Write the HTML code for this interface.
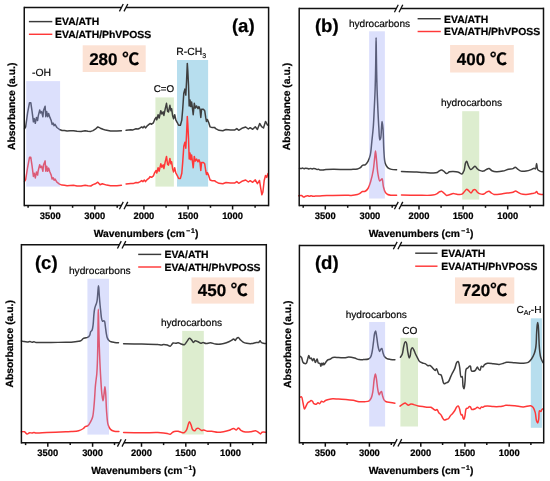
<!DOCTYPE html>
<html><head><meta charset="utf-8"><title>FTIR spectra</title>
<style>
html,body{margin:0;padding:0;background:#fff;}
svg{display:block;font-family:"Liberation Sans","Noto Sans CJK SC",sans-serif;fill:#000;text-rendering:geometricPrecision;}
</style></head><body>
<svg width="550" height="481" viewBox="0 0 550 481">
<rect width="550" height="481" fill="#fff"/>
<rect x="155.4" y="97.4" width="18.5" height="89.2" fill="rgba(125,185,70,0.26)"/>
<rect x="177.0" y="60.0" width="31.1" height="126.6" fill="rgba(50,160,205,0.35)"/>
<polyline points="24.5,128.8 25.7,126.9 27.6,112.9 29.5,102.7 30.8,102.7 32.1,111.6 33.4,121.8 34.3,118.6 35.3,123.3 36.5,117.4 37.6,120.5 38.2,116.1 39.7,110.1 40.6,112.9 41.6,111.6 42.9,116.7 43.5,110.4 45.1,106.3 45.8,116.7 46.7,111.6 47.7,116.7 48.6,113.5 49.9,117.4 51.2,120.5 52.1,124.4 53.1,123.1 54.1,125.6 55.0,124.4 56.9,127.5 59.5,129.5 62.0,130.5 64.5,130.6 67.1,131.1 70.0,130.8 73.5,130.7 77.0,131.3 81.1,131.4 85.1,130.7 88.0,131.2 90.8,131.4 93.0,130.6 95.3,129.2 97.8,126.9 100.4,128.2 103.0,129.3 105.5,130.1 110.5,131.1 116.9,131.1 121.4,130.7" fill="none" stroke="#3e3e3e" stroke-width="1.5" stroke-linejoin="round" stroke-linecap="round"/>
<polyline points="126.1,130.3 130.9,129.7 133.0,129.9 136.0,128.8 138.0,129.0 139.8,128.2 141.7,126.9 143.0,127.9 144.3,126.3 145.5,127.9 147.5,125.6 149.3,124.2 150.0,123.5 151.6,124.2 153.4,122.8 154.7,119.5 156.1,117.4 156.8,119.9 158.1,114.7 159.2,118.1 160.8,110.7 161.9,114.1 163.2,111.8 163.9,115.4 165.1,109.3 166.5,103.3 167.6,111.4 168.5,112.0 169.9,105.3 170.9,110.7 171.6,108.7 172.7,116.1 173.6,118.8 174.7,114.7 175.9,120.1 177.4,122.8 178.6,125.3 180.4,125.3 181.8,120.1 182.7,109.3 183.8,93.1 184.9,89.1 185.8,95.1 186.5,82.3 187.0,70.9 187.3,63.4 187.8,70.9 188.5,85.0 189.2,106.0 190.0,99.9 190.8,106.6 191.6,101.9 192.4,108.0 193.2,114.7 194.3,103.3 195.3,108.0 196.6,106.0 198.0,108.7 198.9,106.6 200.0,109.3 200.8,117.4 201.6,109.3 203.4,109.3 204.7,110.7 205.7,117.4 206.5,121.5 207.4,119.5 208.8,122.8 210.1,126.9 212.2,127.6 215.0,127.6 215.2,128.3 219.0,130.3 222.8,130.8 226.0,129.5 230.5,129.9 234.9,129.9 236.8,128.6 238.7,130.3 241.9,128.3 245.7,127.0 248.3,129.0 250.2,127.7 252.7,129.3 255.3,126.7 257.4,129.5 259.7,123.5 261.6,126.7 263.5,128.0 265.5,121.4 267.4,124.8 268.4,125.5" fill="none" stroke="#3e3e3e" stroke-width="1.5" stroke-linejoin="round" stroke-linecap="round"/>
<polyline points="24.5,181.3 25.7,179.5 27.6,167.5 29.5,157.3 30.8,157.3 32.1,166.2 33.4,176.4 34.3,173.2 35.3,177.9 36.5,172.0 37.6,175.1 38.2,170.7 39.7,164.7 40.6,167.5 41.6,166.2 42.9,171.3 43.5,165.0 45.1,160.9 45.8,171.3 46.7,166.2 47.7,171.3 48.6,168.1 49.9,172.0 51.2,175.1 52.1,179.0 53.1,177.7 54.1,180.2 55.0,179.0 56.9,182.1 59.5,184.1 62.0,185.1 64.5,185.2 67.1,185.7 70.0,185.4 73.5,185.3 77.0,185.9 81.1,186.0 85.1,185.3 88.0,185.8 90.8,186.0 93.0,184.6 95.3,183.8 97.8,182.2 100.1,184.7 102.3,183.8 106.7,185.1 110.5,185.7 116.9,185.7 121.4,185.3" fill="none" stroke="#ff3838" stroke-width="1.5" stroke-linejoin="round" stroke-linecap="round"/>
<polyline points="126.1,184.0 130.9,183.4 133.0,183.6 136.0,182.5 138.0,182.7 139.8,181.9 141.7,180.6 143.0,181.6 144.3,180.0 145.5,181.6 147.5,179.3 149.3,177.9 150.0,176.6 151.6,177.3 153.4,175.9 154.7,172.6 156.1,170.5 156.8,173.0 158.1,167.8 159.2,171.2 160.8,163.8 161.9,167.2 163.2,164.9 163.9,168.5 165.1,162.4 166.5,156.4 167.6,164.5 168.5,165.1 169.9,158.4 170.9,163.8 171.6,161.8 172.7,169.2 173.6,171.9 174.7,167.8 175.9,173.2 177.4,175.9 178.6,178.4 180.4,178.4 181.8,173.2 182.7,162.4 183.8,146.2 184.9,142.2 185.8,148.2 186.5,135.4 187.0,124.0 187.3,116.5 187.8,124.0 188.5,138.1 189.2,159.1 190.0,153.0 190.8,159.7 191.6,155.0 192.4,161.1 193.2,167.8 194.3,156.4 195.3,161.1 196.6,159.1 198.0,161.8 198.9,159.7 200.0,162.4 200.8,170.5 201.6,162.4 203.4,162.4 204.7,163.8 205.7,170.5 206.5,174.6 207.4,172.6 208.8,175.9 210.1,180.0 212.2,180.7 215.0,180.7 215.2,181.3 219.0,183.3 222.8,183.8 226.0,182.5 230.5,182.9 234.9,182.9 236.8,181.6 238.7,183.3 241.9,181.3 245.7,180.0 248.3,182.0 250.2,180.7 252.7,182.3 255.3,179.9 257.4,183.7 259.5,180.5 260.7,188.2 261.9,194.8 262.9,192.0 264.2,180.5 265.5,175.5 266.7,177.4 268.0,173.5" fill="none" stroke="#ff3838" stroke-width="1.5" stroke-linejoin="round" stroke-linecap="round"/>
<rect x="26.2" y="81.1" width="33.9" height="105.5" fill="rgba(150,160,245,0.33)"/>
<line x1="24.25" y1="6.85" x2="24.25" y2="206.25" stroke="#111" stroke-width="1.5" stroke-linecap="butt"/>
<line x1="268.60" y1="6.85" x2="268.60" y2="206.25" stroke="#111" stroke-width="1.5" stroke-linecap="butt"/>
<line x1="24.25" y1="7.60" x2="121.40" y2="7.60" stroke="#111" stroke-width="1.5" stroke-linecap="butt"/>
<line x1="126.10" y1="7.60" x2="268.60" y2="7.60" stroke="#111" stroke-width="1.5" stroke-linecap="butt"/>
<line x1="119.45" y1="11.40" x2="123.25" y2="4.00" stroke="#111" stroke-width="1.3" stroke-linecap="butt"/>
<line x1="124.00" y1="11.40" x2="127.80" y2="4.00" stroke="#111" stroke-width="1.3" stroke-linecap="butt"/>
<line x1="24.25" y1="205.50" x2="121.40" y2="205.50" stroke="#111" stroke-width="1.5" stroke-linecap="butt"/>
<line x1="126.10" y1="205.50" x2="268.60" y2="205.50" stroke="#111" stroke-width="1.5" stroke-linecap="butt"/>
<line x1="119.45" y1="209.30" x2="123.25" y2="201.90" stroke="#111" stroke-width="1.3" stroke-linecap="butt"/>
<line x1="124.00" y1="209.30" x2="127.80" y2="201.90" stroke="#111" stroke-width="1.3" stroke-linecap="butt"/>
<line x1="50.30" y1="205.50" x2="50.30" y2="209.50" stroke="#111" stroke-width="1.5" stroke-linecap="butt"/>
<line x1="94.80" y1="205.50" x2="94.80" y2="209.50" stroke="#111" stroke-width="1.5" stroke-linecap="butt"/>
<line x1="143.90" y1="205.50" x2="143.90" y2="209.50" stroke="#111" stroke-width="1.5" stroke-linecap="butt"/>
<line x1="188.10" y1="205.50" x2="188.10" y2="209.50" stroke="#111" stroke-width="1.5" stroke-linecap="butt"/>
<line x1="232.60" y1="205.50" x2="232.60" y2="209.50" stroke="#111" stroke-width="1.5" stroke-linecap="butt"/>
<line x1="28.10" y1="205.50" x2="28.10" y2="207.80" stroke="#111" stroke-width="1.5" stroke-linecap="butt"/>
<line x1="72.60" y1="205.50" x2="72.60" y2="207.80" stroke="#111" stroke-width="1.5" stroke-linecap="butt"/>
<line x1="117.20" y1="205.50" x2="117.20" y2="207.80" stroke="#111" stroke-width="1.5" stroke-linecap="butt"/>
<line x1="166.10" y1="205.50" x2="166.10" y2="207.80" stroke="#111" stroke-width="1.5" stroke-linecap="butt"/>
<line x1="210.50" y1="205.50" x2="210.50" y2="207.80" stroke="#111" stroke-width="1.5" stroke-linecap="butt"/>
<line x1="255.10" y1="205.50" x2="255.10" y2="207.80" stroke="#111" stroke-width="1.5" stroke-linecap="butt"/>
<text x="50.3" y="219.2" font-size="9.4" font-weight="bold" text-anchor="middle"  stroke="#000" stroke-width="0.22">3500</text>
<text x="94.8" y="219.2" font-size="9.4" font-weight="bold" text-anchor="middle"  stroke="#000" stroke-width="0.22">3000</text>
<text x="143.9" y="219.2" font-size="9.4" font-weight="bold" text-anchor="middle"  stroke="#000" stroke-width="0.22">2000</text>
<text x="188.1" y="219.2" font-size="9.4" font-weight="bold" text-anchor="middle"  stroke="#000" stroke-width="0.22">1500</text>
<text x="232.6" y="219.2" font-size="9.4" font-weight="bold" text-anchor="middle"  stroke="#000" stroke-width="0.22">1000</text>
<text x="146.1" y="236.9" font-size="10.3" font-weight="bold" text-anchor="middle"  stroke="#000" stroke-width="0.22">Wavenumbers (cm<tspan font-size="6.8" dy="-4.2" dx="1.2" letter-spacing="0.8">−1</tspan><tspan dy="4.2" dx="-0.5">)</tspan></text>
<text transform="translate(14.6,106.3) rotate(-90)" font-size="10.35" font-weight="bold" text-anchor="middle" stroke="#000" stroke-width="0.22">Absorbance (a.u.)</text>
<line x1="28.90" y1="21.60" x2="52.30" y2="21.60" stroke="#3a3a3a" stroke-width="1.45" stroke-linecap="butt"/>
<line x1="28.90" y1="34.30" x2="52.30" y2="34.30" stroke="#ff3838" stroke-width="1.45" stroke-linecap="butt"/>
<text x="55.1" y="25.4" font-size="10.4" font-weight="bold" text-anchor="start"  stroke="#000" stroke-width="0.22">EVA/ATH</text>
<text x="55.1" y="38.1" font-size="10.4" font-weight="bold" text-anchor="start"  stroke="#000" stroke-width="0.22">EVA/ATH/PhVPOSS</text>
<rect x="82.7" y="45.3" width="63.0" height="26.7" fill="#fce2d4"/>
<text x="114.2" y="64.5" font-size="17" font-weight="bold" text-anchor="middle"  stroke="#000" stroke-width="0.22">280 ℃</text>
<text x="243.3" y="31.8" font-size="18.6" font-weight="bold" text-anchor="middle"  stroke="#000" stroke-width="0.22">(a)</text>
<text x="41.5" y="76.2" font-size="10.4" font-weight="normal" text-anchor="middle" fill="#0a0a0a" stroke="#0a0a0a" stroke-width="0.2">-OH</text>
<text x="164.0" y="92.3" font-size="9.8" font-weight="normal" text-anchor="middle" fill="#0a0a0a" stroke="#0a0a0a" stroke-width="0.2">C=O</text>
<text x="191.3" y="55.3" font-size="10.4" font-weight="normal" text-anchor="middle" fill="#0a0a0a" stroke="#0a0a0a" stroke-width="0.2">R-CH<tspan font-size="7" dy="2.2">3</tspan></text>
<rect x="462.2" y="111.2" width="17.0" height="88.4" fill="rgba(125,185,70,0.26)"/>
<path d="M299.5,168.2C299.50,168.20 300.50,168.63 301.0,168.6C301.51,168.57 302.00,167.99 302.5,168.0C303.00,168.01 303.49,168.67 304.0,168.7C304.49,168.73 304.95,168.25 305.5,168.2C306.16,168.14 307.07,168.34 307.7,168.5C308.20,168.63 308.55,169.00 309.0,169.0C309.48,169.00 310.00,168.40 310.5,168.4C311.00,168.40 311.49,168.97 312.0,169.0C312.50,169.03 312.97,168.64 313.5,168.6C314.09,168.55 314.81,168.64 315.4,168.8C315.97,168.95 316.47,169.44 317.0,169.5C317.50,169.55 318.01,169.13 318.5,169.2C319.01,169.28 319.39,169.85 320.0,170.0C320.81,170.20 322.00,170.07 323.0,170.0C324.00,169.93 324.78,169.71 326.0,169.6C327.88,169.44 330.46,169.34 333.2,169.3C336.84,169.25 342.58,169.51 345.9,169.5C348.05,169.50 349.36,169.46 351.2,169.4C353.19,169.33 355.90,169.45 357.4,169.1C358.31,168.89 358.86,168.58 359.5,168.2C360.12,167.84 360.71,167.39 361.2,166.9C361.67,166.42 361.83,165.65 362.4,165.3C363.09,164.88 364.35,165.30 365.2,164.8C366.26,164.18 367.21,162.80 368.0,161.4C368.99,159.65 369.70,157.48 370.3,154.9C371.13,151.33 371.32,146.32 371.8,141.8C372.32,136.97 372.91,131.95 373.3,126.8C373.72,121.36 373.91,115.84 374.2,110.0C374.51,103.62 374.87,96.67 375.1,90.0C375.33,83.33 375.47,76.67 375.6,70.0C375.73,63.33 375.81,55.86 375.9,50.0C375.97,45.40 376.03,37.70 376.1,37.7C376.17,37.70 376.23,45.40 376.3,50.0C376.39,55.86 376.47,63.33 376.6,70.0C376.73,76.67 376.88,83.33 377.1,90.0C377.32,96.67 377.59,103.45 377.9,110.0C378.20,116.34 378.54,123.26 378.9,128.7C379.18,132.91 379.23,139.79 379.8,139.9C380.05,139.95 380.46,138.91 380.7,138.0C381.23,136.00 381.24,130.96 381.5,128.0C381.71,125.63 381.86,121.60 382.1,121.6C382.35,121.60 382.75,125.66 383.0,128.7C383.45,134.07 383.44,144.77 383.9,151.1C384.24,155.79 384.23,160.34 385.2,163.3C385.82,165.18 386.59,166.57 387.7,167.6C388.71,168.54 390.02,169.03 391.4,169.4C392.95,169.82 396.60,169.80 396.6,169.8" fill="none" stroke="#3e3e3e" stroke-width="1.5" stroke-linejoin="round" stroke-linecap="round"/>
<path d="M401.5,171.5C401.50,171.50 412.49,171.88 416.8,172.1C419.96,172.26 422.30,172.45 425.0,172.6C427.63,172.75 430.57,173.07 432.8,173.0C434.48,172.95 436.04,172.97 437.2,172.5C438.12,172.13 438.64,171.21 439.4,170.8C440.08,170.44 440.80,170.06 441.5,170.1C442.23,170.14 442.95,170.62 443.7,171.1C444.64,171.70 445.60,173.52 446.6,173.6C447.54,173.67 448.43,172.15 449.5,171.8C450.62,171.43 452.04,171.49 453.2,171.5C454.23,171.51 455.14,171.64 456.1,171.8C457.07,171.97 458.05,172.15 459.0,172.5C459.99,172.87 461.08,174.23 461.9,174.0C462.83,173.74 463.53,171.87 464.1,170.4C464.86,168.45 464.85,164.68 465.5,163.1C465.85,162.25 466.30,161.26 466.7,161.3C467.31,161.37 467.81,164.56 468.5,166.0C469.13,167.31 469.77,169.40 470.6,169.6C471.25,169.76 472.09,168.73 472.8,168.2C473.55,167.64 474.27,166.26 475.0,166.3C475.80,166.35 476.59,168.19 477.4,168.9C478.09,169.51 478.65,170.04 479.5,170.4C480.52,170.84 482.07,171.27 483.2,171.1C484.25,170.95 485.12,170.02 486.1,169.6C487.05,169.19 488.07,168.46 489.0,168.6C490.01,168.75 490.78,170.18 491.9,170.7C493.17,171.29 494.68,171.69 496.3,171.8C498.25,171.93 500.72,171.55 502.8,171.1C504.81,170.67 506.78,169.62 508.6,169.2C510.15,168.84 511.82,169.03 513.0,168.6C513.90,168.27 514.48,167.17 515.2,167.2C515.95,167.23 516.56,168.32 517.4,168.9C518.44,169.61 519.64,170.72 521.0,171.1C522.50,171.52 524.42,171.34 526.1,171.1C527.82,170.85 529.76,170.16 531.2,169.6C532.32,169.17 533.31,168.19 534.1,168.2C534.65,168.20 535.13,169.08 535.5,168.9C536.20,168.56 536.24,163.40 536.6,163.4C536.98,163.40 536.87,168.32 537.7,169.6C538.24,170.43 539.14,170.73 539.9,171.1C540.61,171.45 541.47,171.78 542.1,171.8C542.56,171.81 543.30,171.50 543.3,171.5" fill="none" stroke="#3e3e3e" stroke-width="1.5" stroke-linejoin="round" stroke-linecap="round"/>
<path d="M298.8,195.8C298.80,195.80 300.57,195.40 301.4,195.6C302.28,195.81 303.16,197.09 303.9,197.1C304.49,197.11 304.90,196.41 305.5,196.2C306.16,195.96 307.01,195.77 307.7,195.8C308.33,195.83 308.93,196.33 309.5,196.3C310.03,196.27 310.46,195.72 311.0,195.7C311.61,195.67 312.30,196.23 313.0,196.3C313.76,196.38 314.47,196.16 315.4,196.1C316.69,196.02 318.32,195.97 320.0,195.9C322.05,195.81 323.96,195.69 326.8,195.6C331.56,195.45 341.51,195.16 345.9,195.2C348.21,195.22 349.37,195.50 351.2,195.4C353.19,195.29 355.90,194.92 357.4,194.5C358.31,194.24 358.86,193.98 359.5,193.6C360.12,193.24 360.68,192.67 361.2,192.3C361.63,191.99 361.89,191.68 362.4,191.5C363.11,191.26 364.33,191.70 365.2,191.3C366.23,190.83 367.18,189.77 368.0,188.5C369.16,186.69 369.97,183.78 370.8,181.0C371.79,177.67 372.67,173.55 373.3,169.8C373.93,166.08 374.20,161.96 374.6,158.6C374.92,155.85 375.20,151.10 375.5,151.1C375.80,151.10 376.08,155.67 376.4,158.6C376.86,162.74 377.17,169.50 377.9,173.6C378.42,176.52 378.98,180.78 379.8,181.0C380.22,181.11 380.78,180.00 381.2,179.6C381.53,179.29 381.84,178.71 382.1,178.8C382.77,179.04 382.83,184.23 383.4,186.6C383.90,188.64 384.32,190.82 385.2,192.2C385.87,193.25 386.70,194.00 387.7,194.5C388.75,195.03 390.06,195.07 391.4,195.2C392.98,195.35 396.60,195.20 396.6,195.2" fill="none" stroke="#ff3838" stroke-width="1.5" stroke-linejoin="round" stroke-linecap="round"/>
<path d="M401.5,195.1C401.50,195.10 411.64,195.20 416.8,195.2C422.07,195.20 429.16,195.71 432.8,195.1C434.76,194.77 436.03,194.23 437.2,193.6C438.11,193.11 438.64,192.31 439.4,191.9C440.08,191.54 440.82,191.08 441.5,191.2C442.26,191.33 442.93,192.27 443.7,192.9C444.61,193.64 445.56,195.13 446.6,195.4C447.51,195.64 448.48,195.07 449.5,194.8C450.67,194.49 452.03,193.68 453.2,193.6C454.22,193.53 455.13,193.97 456.1,194.1C457.06,194.23 458.03,194.40 459.0,194.4C459.97,194.40 461.03,194.52 461.9,194.1C462.88,193.63 463.67,192.33 464.5,191.5C465.26,190.74 465.97,189.35 466.7,189.3C467.34,189.25 467.94,190.16 468.6,190.7C469.39,191.34 470.32,192.97 471.1,192.9C471.92,192.83 472.58,190.51 473.4,190.0C473.98,189.64 474.63,189.41 475.2,189.6C475.98,189.86 476.62,191.51 477.4,192.2C478.07,192.80 478.62,193.28 479.5,193.6C480.66,194.02 482.68,194.42 483.9,194.1C484.94,193.82 485.61,192.69 486.5,192.2C487.31,191.75 488.22,191.09 489.0,191.2C489.79,191.31 490.39,192.38 491.2,192.9C492.08,193.46 492.87,194.14 494.1,194.4C495.94,194.78 498.98,194.15 501.4,193.9C503.81,193.65 506.50,193.21 508.6,192.9C510.25,192.65 511.75,192.58 513.0,192.2C514.00,191.89 514.79,190.96 515.6,191.0C516.35,191.03 516.92,191.77 517.7,192.2C518.67,192.73 519.74,193.53 521.0,193.9C522.48,194.34 524.35,194.43 526.1,194.4C527.97,194.36 530.26,193.89 531.9,193.6C533.13,193.38 534.28,193.33 535.1,192.9C535.75,192.56 536.17,191.44 536.6,191.5C537.04,191.56 537.17,192.86 537.7,193.3C538.27,193.78 539.15,194.01 540.0,194.2C540.99,194.42 543.30,194.40 543.3,194.4" fill="none" stroke="#ff3838" stroke-width="1.5" stroke-linejoin="round" stroke-linecap="round"/>
<rect x="369.1" y="31.3" width="15.8" height="167.2" fill="rgba(150,160,245,0.33)"/>
<line x1="299.20" y1="7.65" x2="299.20" y2="206.25" stroke="#111" stroke-width="1.5" stroke-linecap="butt"/>
<line x1="543.50" y1="7.65" x2="543.50" y2="206.25" stroke="#111" stroke-width="1.5" stroke-linecap="butt"/>
<line x1="299.20" y1="8.40" x2="396.40" y2="8.40" stroke="#111" stroke-width="1.5" stroke-linecap="butt"/>
<line x1="401.10" y1="8.40" x2="543.50" y2="8.40" stroke="#111" stroke-width="1.5" stroke-linecap="butt"/>
<line x1="394.45" y1="12.20" x2="398.25" y2="4.80" stroke="#111" stroke-width="1.3" stroke-linecap="butt"/>
<line x1="399.00" y1="12.20" x2="402.80" y2="4.80" stroke="#111" stroke-width="1.3" stroke-linecap="butt"/>
<line x1="299.20" y1="205.50" x2="396.40" y2="205.50" stroke="#111" stroke-width="1.5" stroke-linecap="butt"/>
<line x1="401.10" y1="205.50" x2="543.50" y2="205.50" stroke="#111" stroke-width="1.5" stroke-linecap="butt"/>
<line x1="394.45" y1="209.30" x2="398.25" y2="201.90" stroke="#111" stroke-width="1.3" stroke-linecap="butt"/>
<line x1="399.00" y1="209.30" x2="402.80" y2="201.90" stroke="#111" stroke-width="1.3" stroke-linecap="butt"/>
<line x1="325.30" y1="205.50" x2="325.30" y2="209.50" stroke="#111" stroke-width="1.5" stroke-linecap="butt"/>
<line x1="369.90" y1="205.50" x2="369.90" y2="209.50" stroke="#111" stroke-width="1.5" stroke-linecap="butt"/>
<line x1="419.00" y1="205.50" x2="419.00" y2="209.50" stroke="#111" stroke-width="1.5" stroke-linecap="butt"/>
<line x1="463.10" y1="205.50" x2="463.10" y2="209.50" stroke="#111" stroke-width="1.5" stroke-linecap="butt"/>
<line x1="507.70" y1="205.50" x2="507.70" y2="209.50" stroke="#111" stroke-width="1.5" stroke-linecap="butt"/>
<line x1="303.20" y1="205.50" x2="303.20" y2="207.80" stroke="#111" stroke-width="1.5" stroke-linecap="butt"/>
<line x1="347.70" y1="205.50" x2="347.70" y2="207.80" stroke="#111" stroke-width="1.5" stroke-linecap="butt"/>
<line x1="392.20" y1="205.50" x2="392.20" y2="207.80" stroke="#111" stroke-width="1.5" stroke-linecap="butt"/>
<line x1="441.10" y1="205.50" x2="441.10" y2="207.80" stroke="#111" stroke-width="1.5" stroke-linecap="butt"/>
<line x1="485.50" y1="205.50" x2="485.50" y2="207.80" stroke="#111" stroke-width="1.5" stroke-linecap="butt"/>
<line x1="530.10" y1="205.50" x2="530.10" y2="207.80" stroke="#111" stroke-width="1.5" stroke-linecap="butt"/>
<text x="325.3" y="219.2" font-size="9.4" font-weight="bold" text-anchor="middle"  stroke="#000" stroke-width="0.22">3500</text>
<text x="369.9" y="219.2" font-size="9.4" font-weight="bold" text-anchor="middle"  stroke="#000" stroke-width="0.22">3000</text>
<text x="419.0" y="219.2" font-size="9.4" font-weight="bold" text-anchor="middle"  stroke="#000" stroke-width="0.22">2000</text>
<text x="463.1" y="219.2" font-size="9.4" font-weight="bold" text-anchor="middle"  stroke="#000" stroke-width="0.22">1500</text>
<text x="507.7" y="219.2" font-size="9.4" font-weight="bold" text-anchor="middle"  stroke="#000" stroke-width="0.22">1000</text>
<text x="421.1" y="236.9" font-size="10.3" font-weight="bold" text-anchor="middle"  stroke="#000" stroke-width="0.22">Wavenumbers (cm<tspan font-size="6.8" dy="-4.2" dx="1.2" letter-spacing="0.8">−1</tspan><tspan dy="4.2" dx="-0.5">)</tspan></text>
<text transform="translate(289.9,106.6) rotate(-90)" font-size="10.35" font-weight="bold" text-anchor="middle" stroke="#000" stroke-width="0.22">Absorbance (a.u.)</text>
<line x1="417.60" y1="18.70" x2="440.80" y2="18.70" stroke="#3a3a3a" stroke-width="1.45" stroke-linecap="butt"/>
<line x1="417.60" y1="31.50" x2="440.80" y2="31.50" stroke="#ff3838" stroke-width="1.45" stroke-linecap="butt"/>
<text x="444.1" y="22.5" font-size="10.4" font-weight="bold" text-anchor="start"  stroke="#000" stroke-width="0.22">EVA/ATH</text>
<text x="444.1" y="35.3" font-size="10.4" font-weight="bold" text-anchor="start"  stroke="#000" stroke-width="0.22">EVA/ATH/PhVPOSS</text>
<rect x="450.1" y="45.0" width="63.7" height="27.5" fill="#fce2d4"/>
<text x="481.9" y="64.7" font-size="17" font-weight="bold" text-anchor="middle"  stroke="#000" stroke-width="0.22">400 ℃</text>
<text x="326.8" y="31.8" font-size="18.6" font-weight="bold" text-anchor="middle"  stroke="#000" stroke-width="0.22">(b)</text>
<text x="379.5" y="27.0" font-size="10.1" font-weight="normal" text-anchor="middle" fill="#0a0a0a" stroke="#0a0a0a" stroke-width="0.2">hydrocarbons</text>
<text x="471.5" y="106.0" font-size="10.1" font-weight="normal" text-anchor="middle" fill="#0a0a0a" stroke="#0a0a0a" stroke-width="0.2">hydrocarbons</text>
<rect x="182.2" y="330.9" width="21.6" height="103.6" fill="rgba(125,185,70,0.26)"/>
<path d="M21.4,340.9C21.40,340.90 23.05,341.43 24.0,341.6C25.12,341.79 26.62,341.95 27.7,341.9C28.56,341.86 29.27,341.44 30.0,341.5C30.70,341.56 31.33,342.15 32.0,342.2C32.66,342.25 33.34,341.77 34.0,341.8C34.67,341.83 35.21,342.27 36.0,342.4C37.10,342.57 38.49,342.47 40.0,342.5C41.97,342.54 43.96,342.61 46.8,342.6C51.56,342.59 61.51,342.25 65.9,342.2C68.21,342.18 69.29,342.32 71.2,342.2C73.47,342.06 76.82,341.67 78.6,341.3C79.63,341.09 80.25,341.02 81.0,340.6C81.86,340.12 82.63,338.84 83.4,338.4C83.95,338.08 84.40,338.05 85.0,337.9C85.76,337.71 86.83,337.81 87.6,337.4C88.41,336.97 89.19,336.17 89.7,335.3C90.27,334.32 90.20,332.62 90.7,331.7C91.07,331.01 91.73,330.85 92.1,330.1C92.68,328.91 92.83,326.94 93.1,324.9C93.48,322.04 93.59,317.49 93.9,314.5C94.14,312.22 94.35,310.15 94.7,308.5C94.95,307.32 95.28,306.38 95.6,305.5C95.86,304.79 96.17,304.32 96.4,303.6C96.68,302.72 96.91,301.80 97.1,300.6C97.38,298.87 97.52,296.32 97.7,294.2C97.88,292.12 98.03,289.54 98.2,288.0C98.30,287.08 98.40,285.80 98.5,285.8C98.60,285.80 98.71,287.08 98.8,288.0C98.95,289.54 99.03,291.89 99.2,294.2C99.41,297.14 99.72,301.19 100.0,304.2C100.23,306.69 100.44,308.66 100.7,311.0C100.97,313.49 101.17,316.83 101.6,318.7C101.85,319.81 102.06,321.12 102.5,321.3C102.78,321.41 103.17,320.80 103.5,320.8C103.83,320.80 104.23,320.94 104.5,321.3C105.05,322.04 105.03,324.26 105.3,326.0C105.63,328.16 105.92,331.15 106.3,333.3C106.60,335.02 106.78,336.62 107.3,337.9C107.72,338.93 108.24,339.84 108.9,340.5C109.50,341.10 110.17,341.49 111.0,341.8C112.01,342.18 113.37,342.24 114.6,342.4C115.87,342.57 118.50,342.80 118.5,342.8" fill="none" stroke="#3e3e3e" stroke-width="1.5" stroke-linejoin="round" stroke-linecap="round"/>
<path d="M123.6,343.7C123.60,343.70 135.93,343.98 141.8,344.1C147.30,344.21 154.34,344.09 157.8,344.4C159.47,344.55 160.45,345.06 161.5,345.0C162.30,344.95 162.80,344.45 163.6,344.4C164.65,344.34 166.16,344.68 167.3,345.0C168.34,345.30 169.30,346.40 170.2,346.2C171.26,345.96 172.02,343.41 173.1,343.0C173.99,342.66 175.10,343.35 176.0,343.3C176.79,343.25 177.43,342.73 178.2,342.8C179.11,342.88 180.10,343.68 181.1,344.0C182.13,344.32 183.35,345.03 184.3,344.7C185.43,344.30 186.29,342.24 187.2,341.1C188.01,340.08 188.73,338.29 189.5,338.2C190.10,338.13 190.71,339.00 191.3,339.6C192.05,340.36 192.80,342.46 193.5,342.5C194.06,342.53 194.42,340.97 195.1,340.8C195.88,340.61 197.05,341.39 198.0,341.8C198.98,342.22 199.99,343.24 200.9,343.3C201.67,343.35 202.32,342.49 203.1,342.5C204.00,342.51 204.92,343.50 206.0,343.6C207.30,343.72 208.88,342.76 210.4,342.8C212.04,342.84 213.73,343.79 215.5,344.0C217.36,344.22 219.44,344.22 221.3,344.0C223.07,343.79 224.73,343.38 226.4,342.8C228.13,342.20 230.20,341.16 231.5,340.4C232.38,339.88 232.98,338.85 233.6,338.9C234.16,338.95 234.62,340.43 235.1,340.4C235.59,340.37 235.95,339.09 236.5,338.6C237.03,338.13 237.72,337.42 238.3,337.5C238.97,337.60 239.48,338.89 240.2,339.6C241.04,340.42 242.01,341.48 243.1,342.1C244.18,342.71 245.38,343.05 246.7,343.3C248.23,343.60 250.17,343.75 251.8,343.6C253.33,343.46 254.93,342.66 256.2,342.5C257.14,342.38 258.04,342.82 258.7,342.5C259.33,342.19 259.66,340.68 260.1,340.7C260.53,340.72 260.75,342.07 261.3,342.5C261.87,342.95 262.77,343.12 263.5,343.3C264.20,343.48 265.60,343.60 265.6,343.6" fill="none" stroke="#3e3e3e" stroke-width="1.5" stroke-linejoin="round" stroke-linecap="round"/>
<path d="M21.4,431.8C21.40,431.80 23.57,431.45 24.5,431.8C25.48,432.17 26.20,433.99 27.1,434.1C27.91,434.20 28.75,432.97 29.6,432.8C30.39,432.64 31.24,433.06 32.0,433.0C32.70,432.94 33.33,432.50 34.0,432.5C34.67,432.50 35.06,432.91 36.0,433.0C38.16,433.22 42.69,432.67 46.8,432.5C52.26,432.27 61.51,431.96 65.9,431.8C68.21,431.71 69.28,431.75 71.2,431.6C73.49,431.42 76.53,431.32 78.7,430.7C80.50,430.19 82.26,429.33 83.4,428.5C84.21,427.91 84.46,427.06 85.2,426.6C85.98,426.11 87.16,426.34 88.0,425.7C89.10,424.86 90.02,422.90 90.8,421.4C91.58,419.90 92.19,418.70 92.7,416.7C93.52,413.47 93.76,408.36 94.2,403.6C94.72,397.93 95.00,390.33 95.5,384.9C95.89,380.69 96.48,377.48 96.8,373.7C97.12,369.85 97.24,366.26 97.4,362.0C97.59,356.86 97.69,351.21 97.8,345.0C97.93,337.47 98.00,326.59 98.1,320.0C98.17,315.69 98.22,309.30 98.3,309.3C98.38,309.30 98.49,315.88 98.6,320.0C98.75,325.63 98.92,333.81 99.1,340.0C99.26,345.36 99.37,349.50 99.6,355.0C99.88,361.72 100.28,370.46 100.7,377.4C101.06,383.43 101.38,390.00 101.9,394.3C102.22,396.98 102.66,400.80 103.0,400.8C103.32,400.80 103.61,397.26 103.9,395.2C104.25,392.69 104.59,386.80 104.9,386.8C105.15,386.80 105.38,389.94 105.6,392.4C106.02,397.09 106.18,406.96 106.7,412.9C107.11,417.50 107.26,422.13 108.2,425.1C108.79,426.97 109.44,428.36 110.5,429.4C111.48,430.36 112.85,430.93 114.2,431.3C115.64,431.70 118.90,431.60 118.9,431.6" fill="none" stroke="#ff3838" stroke-width="1.5" stroke-linejoin="round" stroke-linecap="round"/>
<path d="M123.6,432.4C123.60,432.40 135.93,432.67 141.8,432.7C147.30,432.73 153.79,432.51 157.8,432.6C160.21,432.65 161.89,432.72 163.6,432.9C164.98,433.05 166.15,433.27 167.3,433.5C168.33,433.71 169.28,434.39 170.2,434.2C171.22,433.99 172.08,432.48 173.1,432.0C174.02,431.56 175.09,431.41 176.0,431.3C176.78,431.21 177.43,431.17 178.2,431.3C179.11,431.45 180.12,432.07 181.1,432.3C182.06,432.53 183.13,433.02 184.0,432.7C185.00,432.33 185.91,431.03 186.6,429.8C187.47,428.27 187.81,425.46 188.4,424.0C188.77,423.07 189.10,421.80 189.5,421.8C189.96,421.80 190.53,423.58 191.0,424.7C191.61,426.14 191.82,428.82 192.7,429.8C193.29,430.46 194.28,430.96 194.9,430.8C195.56,430.63 195.82,428.99 196.5,428.6C197.11,428.25 197.96,428.20 198.7,428.4C199.65,428.66 200.65,430.29 201.6,430.5C202.35,430.67 202.98,430.05 203.8,430.1C204.88,430.17 206.20,431.09 207.5,431.3C208.86,431.52 210.27,431.17 211.8,431.3C213.60,431.45 215.65,432.23 217.6,432.3C219.55,432.37 221.55,432.03 223.5,431.7C225.45,431.37 227.54,430.90 229.3,430.3C230.87,429.77 232.35,428.31 233.6,428.4C234.63,428.48 235.49,430.20 236.3,430.1C237.09,430.00 237.66,427.92 238.4,427.9C239.19,427.88 239.87,429.65 240.9,430.3C242.10,431.06 243.70,431.74 245.3,432.0C247.07,432.28 249.31,431.93 251.1,431.7C252.68,431.50 254.21,430.62 255.5,430.8C256.60,430.95 257.53,431.75 258.4,432.3C259.18,432.79 259.88,433.95 260.5,433.9C261.07,433.85 261.31,432.60 262.0,432.3C262.89,431.92 265.60,432.30 265.6,432.3" fill="none" stroke="#ff3838" stroke-width="1.5" stroke-linejoin="round" stroke-linecap="round"/>
<rect x="87.4" y="278.8" width="21.6" height="155.8" fill="rgba(150,160,245,0.33)"/>
<line x1="21.40" y1="243.95" x2="21.40" y2="443.55" stroke="#111" stroke-width="1.5" stroke-linecap="butt"/>
<line x1="266.30" y1="243.95" x2="266.30" y2="443.55" stroke="#111" stroke-width="1.5" stroke-linecap="butt"/>
<line x1="21.40" y1="244.70" x2="119.40" y2="244.70" stroke="#111" stroke-width="1.5" stroke-linecap="butt"/>
<line x1="124.10" y1="244.70" x2="266.30" y2="244.70" stroke="#111" stroke-width="1.5" stroke-linecap="butt"/>
<line x1="117.45" y1="248.50" x2="121.25" y2="241.10" stroke="#111" stroke-width="1.3" stroke-linecap="butt"/>
<line x1="122.00" y1="248.50" x2="125.80" y2="241.10" stroke="#111" stroke-width="1.3" stroke-linecap="butt"/>
<line x1="21.40" y1="442.80" x2="119.40" y2="442.80" stroke="#111" stroke-width="1.5" stroke-linecap="butt"/>
<line x1="124.10" y1="442.80" x2="266.30" y2="442.80" stroke="#111" stroke-width="1.5" stroke-linecap="butt"/>
<line x1="117.45" y1="446.60" x2="121.25" y2="439.20" stroke="#111" stroke-width="1.3" stroke-linecap="butt"/>
<line x1="122.00" y1="446.60" x2="125.80" y2="439.20" stroke="#111" stroke-width="1.3" stroke-linecap="butt"/>
<line x1="47.80" y1="442.80" x2="47.80" y2="446.80" stroke="#111" stroke-width="1.5" stroke-linecap="butt"/>
<line x1="92.60" y1="442.80" x2="92.60" y2="446.80" stroke="#111" stroke-width="1.5" stroke-linecap="butt"/>
<line x1="141.50" y1="442.80" x2="141.50" y2="446.80" stroke="#111" stroke-width="1.5" stroke-linecap="butt"/>
<line x1="185.80" y1="442.80" x2="185.80" y2="446.80" stroke="#111" stroke-width="1.5" stroke-linecap="butt"/>
<line x1="230.50" y1="442.80" x2="230.50" y2="446.80" stroke="#111" stroke-width="1.5" stroke-linecap="butt"/>
<line x1="25.60" y1="442.80" x2="25.60" y2="445.10" stroke="#111" stroke-width="1.5" stroke-linecap="butt"/>
<line x1="70.20" y1="442.80" x2="70.20" y2="445.10" stroke="#111" stroke-width="1.5" stroke-linecap="butt"/>
<line x1="114.50" y1="442.80" x2="114.50" y2="445.10" stroke="#111" stroke-width="1.5" stroke-linecap="butt"/>
<line x1="163.60" y1="442.80" x2="163.60" y2="445.10" stroke="#111" stroke-width="1.5" stroke-linecap="butt"/>
<line x1="208.10" y1="442.80" x2="208.10" y2="445.10" stroke="#111" stroke-width="1.5" stroke-linecap="butt"/>
<line x1="252.70" y1="442.80" x2="252.70" y2="445.10" stroke="#111" stroke-width="1.5" stroke-linecap="butt"/>
<text x="47.8" y="456.1" font-size="9.4" font-weight="bold" text-anchor="middle"  stroke="#000" stroke-width="0.22">3500</text>
<text x="92.6" y="456.1" font-size="9.4" font-weight="bold" text-anchor="middle"  stroke="#000" stroke-width="0.22">3000</text>
<text x="141.5" y="456.1" font-size="9.4" font-weight="bold" text-anchor="middle"  stroke="#000" stroke-width="0.22">2000</text>
<text x="185.8" y="456.1" font-size="9.4" font-weight="bold" text-anchor="middle"  stroke="#000" stroke-width="0.22">1500</text>
<text x="230.5" y="456.1" font-size="9.4" font-weight="bold" text-anchor="middle"  stroke="#000" stroke-width="0.22">1000</text>
<text x="143.6" y="474.2" font-size="10.3" font-weight="bold" text-anchor="middle"  stroke="#000" stroke-width="0.22">Wavenumbers (cm<tspan font-size="6.8" dy="-4.2" dx="1.2" letter-spacing="0.8">−1</tspan><tspan dy="4.2" dx="-0.5">)</tspan></text>
<text transform="translate(12.6,343.8) rotate(-90)" font-size="10.35" font-weight="bold" text-anchor="middle" stroke="#000" stroke-width="0.22">Absorbance (a.u.)</text>
<line x1="138.20" y1="254.40" x2="161.20" y2="254.40" stroke="#3a3a3a" stroke-width="1.45" stroke-linecap="butt"/>
<line x1="138.20" y1="267.00" x2="161.20" y2="267.00" stroke="#ff3838" stroke-width="1.45" stroke-linecap="butt"/>
<text x="164.5" y="258.2" font-size="10.4" font-weight="bold" text-anchor="start"  stroke="#000" stroke-width="0.22">EVA/ATH</text>
<text x="164.5" y="270.8" font-size="10.4" font-weight="bold" text-anchor="start"  stroke="#000" stroke-width="0.22">EVA/ATH/PhVPOSS</text>
<rect x="191.5" y="277.4" width="62.6" height="26.2" fill="#fce2d4"/>
<text x="222.8" y="296.4" font-size="17" font-weight="bold" text-anchor="middle"  stroke="#000" stroke-width="0.22">450 ℃</text>
<text x="46.3" y="269.3" font-size="18.6" font-weight="bold" text-anchor="middle"  stroke="#000" stroke-width="0.22">(c)</text>
<text x="99.8" y="273.9" font-size="10.2" font-weight="normal" text-anchor="middle" fill="#0a0a0a" stroke="#0a0a0a" stroke-width="0.2">hydrocarbons</text>
<text x="191.5" y="326.0" font-size="10.1" font-weight="normal" text-anchor="middle" fill="#0a0a0a" stroke="#0a0a0a" stroke-width="0.2">hydrocarbons</text>
<rect x="400.4" y="337.8" width="17.6" height="88.7" fill="rgba(125,185,70,0.26)"/>
<rect x="530.8" y="318.3" width="11.1" height="109.5" fill="rgba(50,160,205,0.35)"/>
<path d="M299.8,356.1C299.80,356.10 301.03,356.80 301.5,357.5C302.21,358.55 302.25,361.16 303.0,362.2C303.52,362.92 304.29,363.47 304.9,363.6C305.38,363.70 305.90,363.66 306.3,363.3C307.04,362.62 307.34,359.90 307.8,358.5C308.16,357.41 308.44,355.61 308.8,355.6C309.17,355.59 309.44,358.24 310.0,358.5C310.37,358.67 310.93,357.94 311.3,358.1C311.84,358.34 312.05,360.67 312.5,360.7C312.93,360.73 313.47,358.45 313.9,358.5C314.45,358.56 314.85,362.47 315.4,362.5C315.92,362.52 316.62,358.96 317.1,359.0C317.59,359.04 317.63,362.17 318.3,362.9C318.75,363.39 319.58,363.15 320.0,363.6C320.52,364.16 320.62,366.31 320.9,366.3C321.19,366.29 321.37,363.23 321.7,363.2C321.96,363.17 322.34,365.02 322.6,365.0C322.87,364.98 323.04,363.01 323.3,363.0C323.55,362.99 323.75,364.77 324.1,364.8C324.54,364.84 325.19,363.01 325.8,362.2C326.39,361.42 326.97,360.48 327.7,360.0C328.35,359.57 329.14,359.65 329.9,359.3C330.83,358.87 331.61,357.84 332.8,357.5C334.35,357.06 336.66,357.45 338.6,357.5C340.56,357.55 342.69,357.90 344.5,357.8C346.05,357.71 347.26,357.09 348.8,357.1C350.59,357.11 352.82,357.65 354.6,358.1C356.19,358.50 357.51,359.35 359.0,359.6C360.45,359.84 361.88,359.69 363.4,359.6C365.04,359.50 367.23,359.57 368.5,359.0C369.44,358.57 370.04,357.99 370.6,357.1C371.37,355.88 371.67,354.01 372.1,352.0C372.70,349.20 373.05,345.07 373.5,341.8C373.92,338.76 374.16,334.87 374.7,333.0C374.97,332.07 375.33,330.97 375.6,331.0C376.04,331.05 376.33,334.59 376.7,336.8C377.19,339.72 377.58,344.32 378.2,347.0C378.61,348.79 379.09,351.35 379.6,351.4C379.98,351.44 380.35,349.70 380.8,349.2C381.11,348.85 381.51,348.40 381.8,348.5C382.36,348.70 382.55,351.43 383.0,352.8C383.42,354.09 383.70,355.51 384.4,356.5C385.04,357.40 385.92,358.12 386.9,358.6C387.94,359.11 389.23,359.20 390.5,359.4C391.89,359.62 394.90,359.80 394.9,359.8" fill="none" stroke="#3e3e3e" stroke-width="1.5" stroke-linejoin="round" stroke-linecap="round"/>
<path d="M400.4,357.2C400.40,357.20 401.71,355.54 402.2,354.3C402.92,352.47 403.07,349.20 403.6,347.0C404.05,345.14 404.41,342.17 405.1,341.9C405.45,341.76 405.96,342.10 406.3,342.6C407.16,343.85 407.17,348.70 407.7,351.4C408.16,353.74 408.67,357.85 409.2,357.9C409.52,357.93 409.92,356.65 410.2,355.7C410.67,354.13 410.60,350.56 411.2,349.2C411.52,348.46 412.00,347.68 412.4,347.7C412.87,347.73 413.36,349.06 413.8,349.9C414.34,350.93 414.73,352.25 415.3,353.5C415.94,354.90 416.75,356.52 417.5,357.9C418.19,359.17 418.69,360.64 419.6,361.5C420.40,362.26 421.51,362.60 422.5,363.0C423.47,363.39 424.59,363.44 425.5,363.9C426.39,364.35 427.07,365.46 427.9,365.7C428.61,365.90 429.38,365.24 430.1,365.5C431.09,365.86 432.10,367.52 433.0,368.4C433.78,369.16 434.57,370.54 435.2,370.5C435.74,370.47 436.14,368.73 436.6,368.8C437.35,368.91 437.80,373.28 438.8,374.2C439.43,374.78 440.42,374.34 441.0,374.9C441.82,375.70 442.01,377.84 442.5,379.3C442.98,380.74 443.11,383.19 443.9,383.6C444.47,383.89 445.37,383.18 446.1,382.9C446.84,382.61 447.66,382.54 448.3,381.9C449.24,380.96 449.77,378.66 450.5,377.1C451.20,375.60 451.88,374.15 452.6,372.7C453.32,371.25 454.15,369.98 454.8,368.4C455.54,366.62 455.88,363.59 456.7,362.5C457.14,361.91 457.79,361.34 458.2,361.5C458.93,361.78 459.18,364.80 459.6,366.9C460.18,369.75 460.25,376.73 461.1,377.1C461.39,377.23 461.82,376.27 462.1,376.4C462.90,376.77 462.57,384.38 463.1,386.5C463.35,387.53 463.74,388.73 464.0,388.7C464.44,388.65 464.69,384.75 465.0,382.2C465.44,378.60 465.07,371.06 466.2,369.1C466.65,368.32 467.38,368.37 467.9,367.9C468.45,367.41 468.90,366.43 469.4,366.2C469.73,366.05 470.12,365.98 470.4,366.2C471.01,366.68 470.59,370.14 471.5,370.8C472.31,371.39 474.23,371.10 475.2,370.5C476.23,369.86 476.81,366.87 477.4,366.9C477.85,366.92 478.03,368.52 478.5,369.1C478.92,369.62 479.58,370.42 480.0,370.3C480.64,370.11 480.72,366.49 481.4,366.2C481.82,366.02 482.43,367.01 482.9,366.9C483.51,366.75 483.87,365.29 484.6,364.7C485.38,364.07 486.33,363.53 487.5,363.3C489.09,362.99 491.44,363.52 493.4,363.7C495.34,363.88 497.42,364.52 499.2,364.4C500.75,364.30 502.19,363.68 503.5,363.3C504.62,362.98 505.30,362.46 506.6,362.3C508.68,362.04 512.13,362.65 514.9,362.8C517.67,362.95 520.79,363.36 523.2,363.2C525.08,363.08 526.80,363.03 528.2,362.3C529.54,361.60 530.54,360.31 531.5,359.0C532.58,357.53 533.51,355.58 534.2,353.8C534.87,352.08 535.27,350.30 535.6,348.5C535.93,346.70 536.04,345.10 536.2,343.0C536.41,340.20 536.42,336.32 536.6,333.2C536.76,330.34 536.94,326.96 537.2,325.0C537.35,323.89 537.53,322.40 537.7,322.4C537.87,322.40 538.06,323.89 538.2,325.0C538.45,326.96 538.55,330.22 538.7,333.2C538.88,336.78 538.98,341.58 539.2,345.0C539.37,347.64 539.52,349.83 539.8,352.0C540.04,353.89 540.23,355.66 540.7,357.3C541.13,358.81 541.90,360.51 542.4,361.5C542.69,362.07 543.20,362.80 543.2,362.8" fill="none" stroke="#3e3e3e" stroke-width="1.5" stroke-linejoin="round" stroke-linecap="round"/>
<path d="M299.8,397.3C299.80,397.30 301.04,396.62 301.5,396.9C302.36,397.42 302.51,400.72 303.0,402.7C303.51,404.75 303.89,408.92 304.5,409.0C304.91,409.05 305.40,407.35 305.9,406.4C306.49,405.28 307.05,403.49 307.8,402.7C308.31,402.16 308.96,402.07 309.5,401.7C310.03,401.34 310.48,400.55 311.0,400.5C311.49,400.46 312.06,400.88 312.5,401.3C313.06,401.84 313.25,403.22 313.9,403.7C314.49,404.13 315.43,404.35 316.1,404.2C316.80,404.04 317.37,402.74 318.0,402.7C318.57,402.66 319.17,403.81 319.7,403.7C320.35,403.57 320.81,401.50 321.5,401.3C322.07,401.13 322.77,402.08 323.4,402.0C324.11,401.90 324.70,400.91 325.5,400.5C326.38,400.05 327.40,399.78 328.5,399.5C329.79,399.17 331.25,398.79 332.8,398.7C334.58,398.60 336.55,398.99 338.6,399.1C340.89,399.23 343.47,399.20 345.9,399.4C348.34,399.60 350.92,399.89 353.2,400.3C355.26,400.67 357.05,401.47 359.0,401.7C360.92,401.93 363.01,401.88 364.8,401.7C366.38,401.54 368.08,401.54 369.2,400.8C370.24,400.11 370.83,398.89 371.4,397.6C372.11,396.00 372.39,394.14 372.8,391.8C373.42,388.29 373.72,381.72 374.3,378.5C374.64,376.62 375.05,374.09 375.4,374.1C375.75,374.11 376.08,376.86 376.4,378.7C376.87,381.42 377.14,385.99 377.7,388.9C378.13,391.12 378.63,394.63 379.2,394.7C379.57,394.75 379.96,393.06 380.4,392.5C380.74,392.07 381.20,391.41 381.5,391.5C382.01,391.65 382.10,394.15 382.5,395.5C382.92,396.92 383.27,398.72 384.0,399.8C384.59,400.66 385.27,401.27 386.2,401.7C387.34,402.23 389.06,402.15 390.5,402.4C391.96,402.65 394.90,403.20 394.9,403.2" fill="none" stroke="#ff3838" stroke-width="1.5" stroke-linejoin="round" stroke-linecap="round"/>
<path d="M400.0,406.1C400.00,406.10 401.99,404.75 402.9,404.2C403.67,403.74 404.42,402.96 405.1,403.0C405.72,403.04 406.24,403.83 406.8,404.2C407.34,404.56 407.80,405.18 408.4,405.2C409.13,405.23 410.01,404.01 410.9,403.9C411.81,403.79 412.74,404.31 413.8,404.6C415.12,404.95 416.62,405.55 418.2,405.9C419.99,406.30 422.26,406.55 424.0,406.8C425.43,407.00 426.69,407.24 427.9,407.3C428.94,407.35 429.94,406.95 430.8,407.2C431.63,407.44 432.24,408.20 433.0,408.7C433.80,409.23 434.78,410.28 435.5,410.3C436.03,410.31 436.45,409.38 436.9,409.5C437.58,409.68 438.08,411.77 438.8,412.7C439.46,413.55 440.37,414.04 441.0,414.9C441.68,415.82 442.11,417.19 442.7,418.1C443.18,418.84 443.54,419.78 444.2,420.0C444.89,420.23 446.02,419.58 446.8,419.3C447.47,419.06 448.05,418.97 448.6,418.5C449.33,417.88 449.80,416.46 450.5,415.6C451.15,414.81 451.92,414.29 452.6,413.5C453.36,412.61 454.13,411.57 454.8,410.5C455.50,409.38 456.00,407.68 456.7,406.9C457.17,406.38 457.77,405.77 458.2,405.9C458.80,406.08 459.17,407.86 459.6,409.1C460.16,410.73 460.39,414.50 461.1,414.9C461.40,415.07 461.82,414.45 462.1,414.6C462.62,414.89 462.69,417.26 463.1,418.1C463.37,418.64 463.74,419.35 464.0,419.3C464.42,419.22 464.68,417.03 465.0,415.6C465.43,413.68 465.34,409.87 466.2,408.8C466.64,408.25 467.38,408.45 467.9,408.1C468.46,407.73 468.91,406.72 469.4,406.6C469.74,406.51 470.09,406.65 470.4,406.9C470.93,407.33 471.06,409.15 471.8,409.5C472.61,409.88 474.22,409.21 475.2,408.8C476.05,408.44 476.62,407.34 477.4,407.3C478.22,407.26 479.31,408.85 480.0,408.7C480.60,408.57 480.86,407.08 481.4,406.9C481.85,406.75 482.40,407.38 482.9,407.3C483.47,407.21 483.92,406.44 484.6,406.2C485.41,405.91 486.36,405.89 487.5,405.9C489.12,405.91 491.44,406.48 493.4,406.6C495.34,406.71 497.42,406.74 499.2,406.6C500.75,406.48 502.29,406.15 503.5,405.9C504.39,405.71 504.77,405.40 505.8,405.3C507.82,405.10 511.94,405.52 514.9,405.8C517.74,406.07 520.50,406.92 523.2,406.9C525.76,406.88 528.92,405.42 530.7,405.8C531.81,406.04 532.51,406.57 533.2,407.4C534.13,408.52 534.68,410.49 535.2,412.4C535.86,414.79 535.87,418.85 536.5,420.7C536.84,421.71 537.36,422.94 537.7,422.9C538.13,422.85 538.43,420.63 538.7,419.1C539.10,416.86 538.75,411.03 539.5,410.7C539.81,410.56 540.34,411.67 540.7,411.6C541.15,411.51 541.44,410.12 541.9,409.6C542.29,409.16 543.20,408.60 543.2,408.6" fill="none" stroke="#ff3838" stroke-width="1.5" stroke-linejoin="round" stroke-linecap="round"/>
<rect x="369.2" y="322.0" width="15.9" height="104.5" fill="rgba(150,160,245,0.33)"/>
<line x1="299.40" y1="244.75" x2="299.40" y2="443.45" stroke="#111" stroke-width="1.5" stroke-linecap="butt"/>
<line x1="543.70" y1="244.75" x2="543.70" y2="443.45" stroke="#111" stroke-width="1.5" stroke-linecap="butt"/>
<line x1="299.40" y1="245.50" x2="395.30" y2="245.50" stroke="#111" stroke-width="1.5" stroke-linecap="butt"/>
<line x1="400.00" y1="245.50" x2="543.70" y2="245.50" stroke="#111" stroke-width="1.5" stroke-linecap="butt"/>
<line x1="393.35" y1="249.30" x2="397.15" y2="241.90" stroke="#111" stroke-width="1.3" stroke-linecap="butt"/>
<line x1="397.90" y1="249.30" x2="401.70" y2="241.90" stroke="#111" stroke-width="1.3" stroke-linecap="butt"/>
<line x1="299.40" y1="442.70" x2="395.30" y2="442.70" stroke="#111" stroke-width="1.5" stroke-linecap="butt"/>
<line x1="400.00" y1="442.70" x2="543.70" y2="442.70" stroke="#111" stroke-width="1.5" stroke-linecap="butt"/>
<line x1="393.35" y1="446.50" x2="397.15" y2="439.10" stroke="#111" stroke-width="1.3" stroke-linecap="butt"/>
<line x1="397.90" y1="446.50" x2="401.70" y2="439.10" stroke="#111" stroke-width="1.3" stroke-linecap="butt"/>
<line x1="325.30" y1="442.70" x2="325.30" y2="446.70" stroke="#111" stroke-width="1.5" stroke-linecap="butt"/>
<line x1="369.40" y1="442.70" x2="369.40" y2="446.70" stroke="#111" stroke-width="1.5" stroke-linecap="butt"/>
<line x1="420.80" y1="442.70" x2="420.80" y2="446.70" stroke="#111" stroke-width="1.5" stroke-linecap="butt"/>
<line x1="464.90" y1="442.70" x2="464.90" y2="446.70" stroke="#111" stroke-width="1.5" stroke-linecap="butt"/>
<line x1="509.20" y1="442.70" x2="509.20" y2="446.70" stroke="#111" stroke-width="1.5" stroke-linecap="butt"/>
<line x1="303.00" y1="442.70" x2="303.00" y2="445.00" stroke="#111" stroke-width="1.5" stroke-linecap="butt"/>
<line x1="347.10" y1="442.70" x2="347.10" y2="445.00" stroke="#111" stroke-width="1.5" stroke-linecap="butt"/>
<line x1="391.30" y1="442.70" x2="391.30" y2="445.00" stroke="#111" stroke-width="1.5" stroke-linecap="butt"/>
<line x1="442.60" y1="442.70" x2="442.60" y2="445.00" stroke="#111" stroke-width="1.5" stroke-linecap="butt"/>
<line x1="486.80" y1="442.70" x2="486.80" y2="445.00" stroke="#111" stroke-width="1.5" stroke-linecap="butt"/>
<line x1="530.90" y1="442.70" x2="530.90" y2="445.00" stroke="#111" stroke-width="1.5" stroke-linecap="butt"/>
<text x="325.3" y="456.2" font-size="9.4" font-weight="bold" text-anchor="middle"  stroke="#000" stroke-width="0.22">3500</text>
<text x="369.4" y="456.2" font-size="9.4" font-weight="bold" text-anchor="middle"  stroke="#000" stroke-width="0.22">3000</text>
<text x="420.8" y="456.2" font-size="9.4" font-weight="bold" text-anchor="middle"  stroke="#000" stroke-width="0.22">2000</text>
<text x="464.9" y="456.2" font-size="9.4" font-weight="bold" text-anchor="middle"  stroke="#000" stroke-width="0.22">1500</text>
<text x="509.2" y="456.2" font-size="9.4" font-weight="bold" text-anchor="middle"  stroke="#000" stroke-width="0.22">1000</text>
<text x="421.1" y="473.8" font-size="10.3" font-weight="bold" text-anchor="middle"  stroke="#000" stroke-width="0.22">Wavenumbers (cm<tspan font-size="6.8" dy="-4.2" dx="1.2" letter-spacing="0.8">−1</tspan><tspan dy="4.2" dx="-0.5">)</tspan></text>
<text transform="translate(290.5,344.2) rotate(-90)" font-size="10.35" font-weight="bold" text-anchor="middle" stroke="#000" stroke-width="0.22">Absorbance (a.u.)</text>
<line x1="415.20" y1="253.20" x2="437.50" y2="253.20" stroke="#3a3a3a" stroke-width="1.45" stroke-linecap="butt"/>
<line x1="415.20" y1="266.20" x2="437.50" y2="266.20" stroke="#ff3838" stroke-width="1.45" stroke-linecap="butt"/>
<text x="441.3" y="257.0" font-size="10.4" font-weight="bold" text-anchor="start"  stroke="#000" stroke-width="0.22">EVA/ATH</text>
<text x="441.3" y="270.0" font-size="10.4" font-weight="bold" text-anchor="start"  stroke="#000" stroke-width="0.22">EVA/ATH/PhVPOSS</text>
<rect x="455.0" y="277.4" width="59.3" height="26.2" fill="#fce2d4"/>
<text x="484.6" y="296.4" font-size="17" font-weight="bold" text-anchor="middle"  stroke="#000" stroke-width="0.22">720℃</text>
<text x="326.8" y="269.2" font-size="18.6" font-weight="bold" text-anchor="middle"  stroke="#000" stroke-width="0.22">(d)</text>
<text x="376.3" y="318.0" font-size="10.1" font-weight="normal" text-anchor="middle" fill="#0a0a0a" stroke="#0a0a0a" stroke-width="0.2">hydrocarbons</text>
<text x="409.8" y="334.4" font-size="10.1" font-weight="normal" text-anchor="middle" fill="#0a0a0a" stroke="#0a0a0a" stroke-width="0.2">CO</text>
<text x="529.0" y="313.0" font-size="10.1" font-weight="normal" text-anchor="middle" fill="#0a0a0a" stroke="#0a0a0a" stroke-width="0.2">C<tspan font-size="7" dy="2">Ar</tspan><tspan dy="-2">-H</tspan></text>
</svg>
</body></html>
